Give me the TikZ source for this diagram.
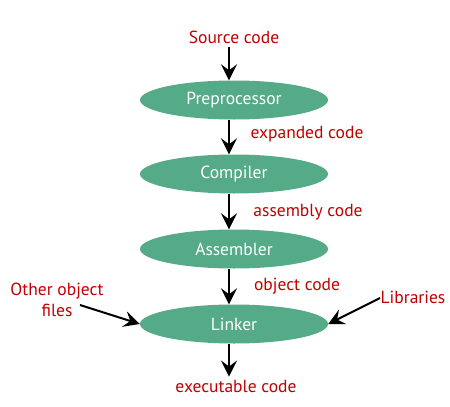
\documentclass[tikz,border=0pt]{standalone}
\usepackage{fontspec}
\setmainfont{PT Sans}
\usetikzlibrary{arrows.meta, shapes.geometric}
\definecolor{stagegreen}{RGB}{85,170,136}
\definecolor{codered}{RGB}{192,0,0}

\begin{document}
\begin{tikzpicture}[x = 1pt, y = -1pt,
    stage/.style = {ellipse, fill = stagegreen, text = white, minimum width = 188pt, minimum height = 39pt, inner sep = 0pt, font = \fontsize{17.5}{20}\selectfont},
    code/.style = {text = codered, inner sep = 1pt, font = \fontsize{17.5}{21}\selectfont},
    flow/.style = {-{Stealth[length = 16pt, width = 16pt, inset = 6pt]}, line width = 2pt}]
  \useasboundingbox (0,0) rectangle (450,407);
  \node[code]  (src) at (234,37)  {Source code};
  \node[stage] (pre) at (234,100) {Preprocessor};
  \node[stage] (cmp) at (234,174) {Compiler};
  \node[stage] (asm) at (234,249) {Assembler};
  \node[stage] (lnk) at (234,324) {Linker};
  \node[code]  (exe) at (236,386) {executable code};
  \node[code]  (exp) at (307,134) {expanded code};
  \node[code]  (asc) at (308,212) {assembly code};
  \node[code]  (obj) at (297,286) {object code};
  \node[code, align = center] (oth) at (57,300) {Other object\\files};
  \node[code]  (lib) at (413,297) {Libraries};
  \coordinate (othend) at (80,305);
  \coordinate (libend) at (380,298);
  \path[flow] ([xshift = -5pt, yshift = -2pt]src.south) edge ([xshift = -5pt]pre.north)
              ([xshift = -5pt]pre.south) edge ([xshift = -5pt]cmp.north)
              ([xshift = -5pt]cmp.south) edge ([xshift = -5pt]asm.north)
              ([xshift = -5pt]asm.south) edge ([xshift = -5pt]lnk.north)
              ([xshift = -5pt]lnk.south) edge ([xshift = -7pt, yshift = 2pt]exe.north)
              (othend) edge (lnk.west)
              (libend) edge (lnk.east);
\end{tikzpicture}
\end{document}
